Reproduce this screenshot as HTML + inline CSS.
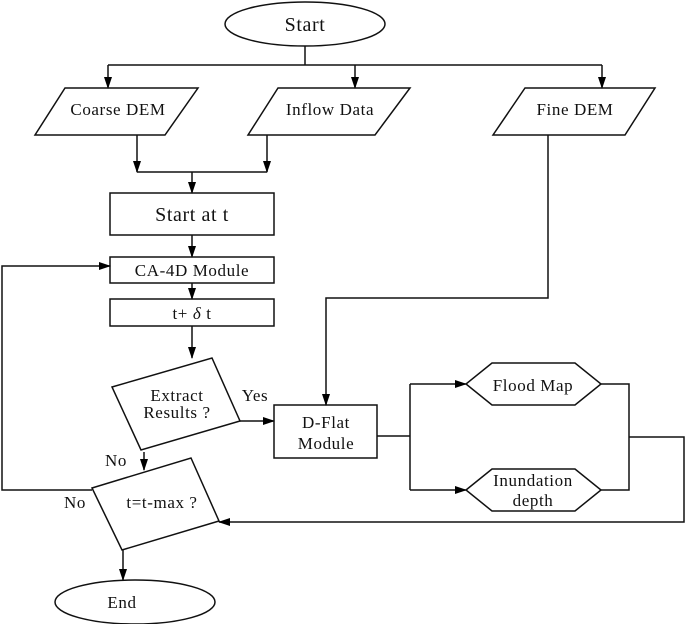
<!DOCTYPE html>
<html><head><style>
body{margin:0;background:#fff;}
svg{display:block;}
text{font-family:"Liberation Serif",serif;fill:#111;letter-spacing:0.6px;}
</style></head><body>
<svg width="685" height="624" viewBox="0 0 685 624" xmlns="http://www.w3.org/2000/svg">
<defs><marker id="a" markerWidth="12" markerHeight="8" refX="11" refY="4" orient="auto" markerUnits="userSpaceOnUse"><path d="M0,0 L12,4 L0,8 z" fill="#000"/></marker></defs>
<g stroke="#111" stroke-width="1.5" fill="none">
<ellipse cx="305" cy="24" rx="80" ry="22"/>
<line x1="305" y1="46" x2="305" y2="65"/>
<line x1="108" y1="65" x2="602" y2="65"/>
<line x1="108" y1="65" x2="108" y2="88" marker-end="url(#a)"/>
<line x1="355" y1="65" x2="355" y2="88" marker-end="url(#a)"/>
<line x1="602" y1="65" x2="602" y2="88" marker-end="url(#a)"/>
<polygon points="65,88 198,88 165,135 35,135"/>
<polygon points="278,88 410,88 375,135 248,135"/>
<polygon points="525,88 655,88 625,135 493,135"/>
<line x1="137" y1="135" x2="137" y2="172" marker-end="url(#a)"/>
<line x1="267" y1="135" x2="267" y2="172" marker-end="url(#a)"/>
<line x1="137" y1="172" x2="267" y2="172"/>
<line x1="192" y1="172" x2="192" y2="193" marker-end="url(#a)"/>
<rect x="110" y="193" width="164" height="42"/>
<line x1="192" y1="235" x2="192" y2="257" marker-end="url(#a)"/>
<rect x="110" y="257" width="164" height="26"/>
<line x1="192" y1="283" x2="192" y2="299" marker-end="url(#a)"/>
<rect x="110" y="299" width="164" height="27"/>
<line x1="192" y1="326" x2="192" y2="358" marker-end="url(#a)"/>
<polygon points="112,387 212,358 240,421 141,450"/>
<line x1="240" y1="421" x2="274" y2="421" marker-end="url(#a)"/>
<rect x="274" y="405" width="103" height="53"/>
<line x1="144" y1="452" x2="144" y2="470" marker-end="url(#a)"/>
<polygon points="92,488 191,458 219,521 122,550"/>
<polyline points="92,490 2,490 2,266 110,266" marker-end="url(#a)"/>
<line x1="123" y1="550" x2="123" y2="580" marker-end="url(#a)"/>
<ellipse cx="135" cy="602" rx="80" ry="22"/>
<polyline points="548,135 548,298 326,298 326,405" marker-end="url(#a)"/>
<line x1="377" y1="436" x2="410" y2="436"/>
<line x1="410" y1="384" x2="410" y2="490"/>
<line x1="410" y1="384" x2="466" y2="384" marker-end="url(#a)"/>
<line x1="410" y1="490" x2="466" y2="490" marker-end="url(#a)"/>
<polygon points="466,384 492,363 575,363 601,384 575,405 492,405"/>
<polygon points="466,490 492,469 575,469 601,490 575,511 492,511"/>
<polyline points="601,384 629,384 629,490 601,490"/>
<polyline points="629,437 684,437 684,522 219,522" marker-end="url(#a)"/>
</g>
<g font-size="17" text-anchor="middle">
<text x="305" y="31" font-size="20">Start</text>
<text x="118" y="115">Coarse DEM</text>
<text x="330" y="115">Inflow Data</text>
<text x="575" y="115">Fine DEM</text>
<text x="192" y="221" font-size="20" letter-spacing="1">Start at t</text>
<text x="192" y="276">CA-4D Module</text>
<text x="192" y="319">t+ <tspan font-style="italic">δ</tspan> t</text>
<text x="177" y="401">Extract</text>
<text x="177" y="418">Results ?</text>
<text x="255" y="401">Yes</text>
<text x="326" y="428">D-Flat</text>
<text x="326" y="449">Module</text>
<text x="116" y="466">No</text>
<text x="75" y="508">No</text>
<text x="162" y="508">t=t-max ?</text>
<text x="533" y="391">Flood Map</text>
<text x="533" y="486">Inundation</text>
<text x="533" y="506">depth</text>
<text x="122" y="608">End</text>
</g>
</svg>
</body></html>
